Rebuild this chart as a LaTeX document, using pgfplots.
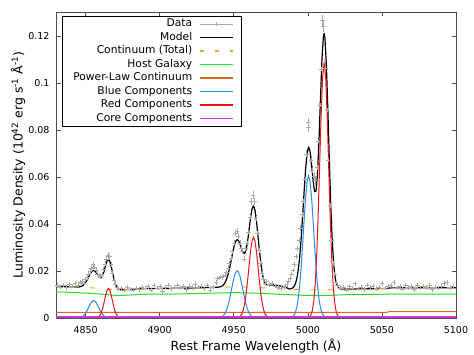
\documentclass[border=0pt]{standalone}
\usepackage{fontspec}
\setmainfont{DejaVu Sans}
\usepackage{pgfplots}
\pgfplotsset{compat=1.18}
\definecolor{cdata}{HTML}{A8A8A8}
\definecolor{ccont}{HTML}{F2A531}
\definecolor{chost}{HTML}{22DD22}
\definecolor{cpl}{HTML}{D2691E}
\definecolor{cblue}{HTML}{2A8BEE}
\definecolor{cred}{HTML}{EE1515}
\definecolor{ccore}{HTML}{CC33DD}
\begin{document}
\begin{tikzpicture}
\path[use as bounding box] (-56pt,-37pt) rectangle (418pt,318pt);
\begin{axis}[
 at={(0pt,0pt)}, anchor=south west,
 scale only axis, width=400pt, height=306pt,
 xmin=4830, xmax=5100, ymin=0, ymax=0.1302,
 xtick={4850,4900,4950,5000,5050,5100},
 xticklabels={4850,4900,4950,5000,5050,5100},
 ytick={0,0.02,0.04,0.06,0.08,0.1,0.12},
 yticklabels={0,0.02,0.04,0.06,0.08,0.1,0.12},
 tick align=inside, major tick length=4.5pt,
 ticklabel style={font=\fontsize{9.5}{11}\selectfont},
 xticklabel style={yshift=-5pt},
 yticklabel style={xshift=-3pt},
 axis line style={black!70, line width=0.6pt},
 tick style={black!70, line width=0.6pt},
 xlabel={Rest Frame Wavelength (Å)},
 ylabel={Luminosity Density (10\textsuperscript{42} erg s\textsuperscript{-1} Å\textsuperscript{-1})},
 label style={font=\fontsize{12.5}{15}\selectfont},
 xlabel style={at={(axis description cs:0.5,-0.0915)}, anchor=center},
 ylabel style={at={(axis description cs:-0.095,0.5)}, anchor=center},
 clip=false,
 legend style={at={(axis description cs:0.015,0.987)}, anchor=north west,
   draw=black, line width=0.6pt, fill=white, inner xsep=4pt, inner ysep=1pt,
   font=\fontsize{10.7}{12}\selectfont,
   nodes={inner ysep=1.5pt, text height=8pt, text depth=2.5pt}},
 legend cell align=right, legend plot pos=right,
]
% Data
\addplot[only marks, mark=+, mark size=2.2pt, color=cdata, mark options={line width=0.4pt},
  legend image code/.code={\path[draw=none,fill=none] (-6pt,-3pt) rectangle (37pt,3pt); \draw[cdata, line width=0.6pt] (0pt,0pt) -- (33pt,0pt); \draw[cdata, line width=0.6pt] (16.5pt,-2pt) -- (16.5pt,2pt);},
  error bars/.cd, y dir=both, y explicit, error mark=none, error bar style={line width=0.4pt, cdata}]
 table[x index=0, y index=1, y error index=2] {
4831 0.0138 0.0008
4833 0.0131 0.0008
4835 0.0140 0.0008
4837 0.0129 0.0008
4839 0.0142 0.0008
4841 0.0136 0.0008
4843 0.0149 0.0008
4845 0.0141 0.0008
4846 0.0153 0.0008
4847 0.0146 0.0008
4848 0.0158 0.0009
4849 0.0150 0.0009
4850 0.0166 0.0009
4851 0.0175 0.0009
4852 0.0186 0.0009
4853 0.0197 0.0010
4854 0.0214 0.0010
4855 0.0229 0.0010
4856 0.0218 0.0010
4857 0.0202 0.0010
4858 0.0188 0.0010
4859 0.0181 0.0010
4860 0.0179 0.0010
4861 0.0186 0.0010
4862 0.0206 0.0010
4863 0.0230 0.0011
4864 0.0252 0.0011
4865 0.0268 0.0012
4866 0.0262 0.0012
4867 0.0228 0.0011
4868 0.0190 0.0010
4869 0.0160 0.0010
4870 0.0142 0.0009
4871 0.0131 0.0008
4872 0.0123 0.0008
4874 0.0127 0.0008
4876 0.0118 0.0008
4878 0.0131 0.0008
4880 0.0124 0.0008
4882 0.0119 0.0008
4884 0.0128 0.0008
4886 0.0122 0.0008
4888 0.0133 0.0008
4890 0.0127 0.0008
4892 0.0134 0.0008
4894 0.0120 0.0008
4896 0.0141 0.0008
4898 0.0128 0.0008
4900 0.0136 0.0008
4902 0.0112 0.0008
4904 0.0131 0.0008
4906 0.0140 0.0008
4908 0.0125 0.0008
4910 0.0133 0.0008
4912 0.0138 0.0008
4914 0.0127 0.0008
4916 0.0134 0.0008
4918 0.0121 0.0008
4920 0.0137 0.0008
4922 0.0129 0.0008
4924 0.0142 0.0008
4926 0.0131 0.0008
4928 0.0136 0.0008
4930 0.0126 0.0008
4932 0.0140 0.0008
4934 0.0119 0.0008
4936 0.0133 0.0008
4938 0.0151 0.0008
4939 0.0168 0.0008
4940 0.0171 0.0008
4941 0.0174 0.0008
4942 0.0172 0.0008
4943 0.0178 0.0009
4944 0.0183 0.0009
4945 0.0196 0.0009
4946 0.0214 0.0010
4947 0.0234 0.0010
4948 0.0256 0.0011
4949 0.0283 0.0011
4950 0.0318 0.0012
4951 0.0362 0.0013
4952 0.0371 0.0013
4953 0.0348 0.0013
4954 0.0318 0.0012
4955 0.0297 0.0012
4956 0.0283 0.0011
4957 0.0251 0.0011
4958 0.0296 0.0012
4959 0.0318 0.0012
4960 0.0366 0.0013
4961 0.0430 0.0014
4962 0.0496 0.0015
4963 0.0523 0.0016
4964 0.0495 0.0015
4965 0.0424 0.0014
4966 0.0362 0.0013
4967 0.0287 0.0012
4968 0.0234 0.0011
4969 0.0192 0.0010
4970 0.0165 0.0009
4971 0.0150 0.0009
4972 0.0157 0.0009
4974 0.0143 0.0008
4976 0.0149 0.0008
4978 0.0136 0.0008
4980 0.0130 0.0008
4982 0.0126 0.0008
4984 0.0130 0.0008
4985 0.0136 0.0008
4986 0.0144 0.0008
4987 0.0158 0.0009
4988 0.0170 0.0009
4989 0.0186 0.0009
4990 0.0204 0.0010
4991 0.0228 0.0010
4992 0.0261 0.0011
4993 0.0296 0.0012
4994 0.0330 0.0012
4995 0.0382 0.0013
4996 0.0440 0.0014
4997 0.0499 0.0015
4998 0.0590 0.0016
4999 0.0695 0.0018
5000 0.0833 0.0020
5000.4 0.0812 0.0020
5002 0.0672 0.0018
5003 0.0628 0.0017
5004 0.0603 0.0017
5005 0.0585 0.0017
5006 0.0640 0.0017
5007 0.0752 0.0019
5008 0.0905 0.0021
5009 0.1060 0.0023
5010 0.1265 0.0025
5010.6 0.1240 0.0025
5012 0.1062 0.0023
5013 0.0885 0.0021
5014 0.0672 0.0018
5015 0.0478 0.0015
5016 0.0330 0.0012
5017 0.0232 0.0011
5018 0.0186 0.0010
5019 0.0152 0.0009
5020 0.0139 0.0008
5022 0.0128 0.0008
5024 0.0131 0.0008
5026 0.0120 0.0008
5028 0.0136 0.0008
5030 0.0127 0.0008
5032 0.0146 0.0008
5034 0.0124 0.0008
5036 0.0133 0.0008
5038 0.0122 0.0008
5040 0.0141 0.0008
5042 0.0129 0.0008
5044 0.0137 0.0008
5046 0.0125 0.0008
5048 0.0132 0.0008
5050 0.0146 0.0008
5052 0.0127 0.0008
5054 0.0135 0.0008
5056 0.0141 0.0008
5058 0.0151 0.0008
5060 0.0128 0.0008
5062 0.0136 0.0008
5064 0.0123 0.0008
5066 0.0139 0.0008
5068 0.0130 0.0008
5070 0.0134 0.0008
5072 0.0122 0.0008
5074 0.0138 0.0008
5076 0.0127 0.0008
5078 0.0135 0.0008
5080 0.0129 0.0008
5082 0.0140 0.0008
5084 0.0121 0.0008
5086 0.0133 0.0008
5088 0.0128 0.0008
5090 0.0137 0.0008
5092 0.0146 0.0008
5094 0.0151 0.0008
5096 0.0130 0.0008
5098 0.0134 0.0008
};
\addlegendentry{Data}
% Model
\addplot[black, line width=1.2pt, line join=round,
  legend image code/.code={\path[draw=none,fill=none] (-6pt,-3pt) rectangle (37pt,3pt); \draw[black, line width=1.3pt] (0pt,0pt) -- (33pt,0pt);}] coordinates {
(4830,0.0135) (4835,0.0134) (4840.4,0.0133) (4843.4,0.0132) (4845.4,0.01318)
(4846.4,0.01336) (4847.4,0.01356) (4848.4,0.01395) (4849.4,0.01458) (4850.4,0.01549)
(4851.4,0.01664) (4852.4,0.01792) (4853.4,0.01908) (4854.4,0.01991) (4855.4,0.02018)
(4856.4,0.01986) (4857.4,0.01903) (4858.4,0.01802) (4859.4,0.0172) (4860.4,0.01707)
(4861.4,0.01794) (4862.4,0.01983) (4863.4,0.02223) (4864.4,0.02426) (4865.4,0.02499)
(4866.4,0.02397) (4867.4,0.02154) (4868.4,0.01859) (4869.4,0.01591) (4870.4,0.01397)
(4871.4,0.01282) (4872.4,0.01224) (4873.4,0.01206) (4874.4,0.01202) (4876,0.0120)
(4880,0.0122) (4885,0.01235) (4890,0.0125) (4900,0.01255) (4910,0.0126)
(4920,0.01275) (4930,0.0129) (4936.3,0.0130) (4939.3,0.01309) (4940.3,0.01319)
(4941.3,0.01338) (4942.3,0.01371) (4943.3,0.01432) (4944.3,0.0153) (4945.3,0.01681)
(4946.3,0.01891) (4947.3,0.02162) (4948.3,0.02473) (4949.3,0.0279) (4950.3,0.03071)
(4951.3,0.03263) (4952.3,0.03336) (4953.3,0.03284) (4954.3,0.03131) (4955.3,0.02935)
(4956.3,0.02782) (4957.3,0.02749) (4958.3,0.02901) (4959.3,0.03252) (4960.3,0.0374)
(4961.3,0.04258) (4962.3,0.04642) (4963.3,0.04773) (4964.3,0.0459) (4965.3,0.04136)
(4966.3,0.03511) (4967.3,0.02868) (4968.3,0.02304) (4969.3,0.01879) (4970.3,0.01596)
(4971.3,0.0143) (4972.3,0.0142) (4974.3,0.0141) (4977,0.0140) (4980,0.0138)
(4983,0.0134) (4986,0.0128) (4987.5,0.01236) (4988.5,0.01244) (4989.5,0.01267)
(4990.5,0.01324) (4991.5,0.01441) (4992.5,0.0166) (4993.5,0.02033) (4994.5,0.02603)
(4995.5,0.03389) (4996.5,0.04357) (4997.5,0.05397) (4998.5,0.06344) (4999.5,0.07019)
(5000.5,0.07277) (5001.5,0.07081) (5002.5,0.06534) (5003.5,0.05865) (5004.5,0.05383)
(5005.5,0.05397) (5006.5,0.0611) (5007.5,0.07505) (5008.5,0.09303) (5009.5,0.10988)
(5010.5,0.11993) (5011.0,0.12109) (5011.5,0.11937) (5012.5,0.10789) (5013.5,0.08872)
(5014.5,0.06695) (5015.5,0.04728) (5016.5,0.03228) (5017.5,0.02247) (5018.5,0.01689)
(5019.5,0.01411) (5020.5,0.0129) (5021.5,0.01245) (5022.5,0.0123) (5025,0.0123)
(5035,0.0124) (5050,0.0125) (5053,0.01255) (5055,0.0128) (5075,0.0129) (5100,0.0129)
};
\addlegendentry{Model}
% Continuum total
\addplot[ccont, line width=1pt, dash pattern=on 5pt off 12pt,
  legend image code/.code={\path[draw=none,fill=none] (-6pt,-3pt) rectangle (37pt,3pt); \draw[ccont, line width=1.3pt, dash pattern=on 4pt off 11pt] (0pt,0pt) -- (33pt,0pt);}] coordinates {
(4830,0.0135) (4845,0.0132) (4860,0.0126) (4872,0.0119) (4880,0.0122) (4890,0.0125)
(4910,0.0126) (4930,0.0129) (4950,0.0132) (4965,0.0130) (4980,0.0125) (4995,0.0121)
(5010,0.0119) (5025,0.0123) (5050,0.0125) (5053,0.01255) (5055,0.0128) (5075,0.0129) (5100,0.0129)
};
\addlegendentry{Continuum (Total)}
% Host galaxy
\addplot[chost, line width=1pt,
  legend image code/.code={\path[draw=none,fill=none] (-6pt,-3pt) rectangle (37pt,3pt); \draw[chost, line width=1.8pt] (0pt,0pt) -- (33pt,0pt);}] coordinates {
(4830,0.0111) (4845,0.0108) (4860,0.0102) (4872,0.0095) (4880,0.0098) (4890,0.0101)
(4910,0.0102) (4930,0.0105) (4950,0.0108) (4965,0.0106) (4980,0.0101) (4995,0.0097)
(5010,0.0095) (5025,0.0099) (5050,0.0101) (5075,0.0102) (5100,0.0102)
};
\addlegendentry{Host Galaxy}
% Power law
\addplot[cpl, line width=1pt,
  legend image code/.code={\path[draw=none,fill=none] (-6pt,-3pt) rectangle (37pt,3pt); \draw[cpl, line width=1.4pt] (0pt,0pt) -- (33pt,0pt);}] coordinates {
(4830,0.0024) (5053,0.0024) (5055,0.0027) (5100,0.0027)
};
\addlegendentry{\hspace{5pt}Power-Law Continuum}
% Blue components
\addplot[cblue, line width=1pt,
  legend image code/.code={\path[draw=none,fill=none] (-6pt,-3pt) rectangle (37pt,3pt); \draw[cblue, line width=1.4pt] (0pt,0pt) -- (33pt,0pt);}] coordinates {
(4843.4,0.00001) (4844.4,0.00004) (4845.4,0.0001) (4846.4,0.00022) (4847.4,0.00046)
(4848.4,0.00089) (4849.4,0.00156) (4850.4,0.00251) (4851.4,0.0037) (4852.4,0.00502)
(4853.4,0.00622) (4854.4,0.00709) (4855.4,0.0074) (4856.4,0.00709) (4857.4,0.00622)
(4858.4,0.00502) (4859.4,0.0037) (4860.4,0.00251) (4861.4,0.00156) (4862.4,0.00089)
(4863.4,0.00046) (4864.4,0.00022) (4865.4,0.0001) (4866.4,0.00004) (4867.4,0.00001)
};
\addlegendentry{Blue Components}
\addplot[cblue, line width=1pt, forget plot] coordinates {
(4939.3,0.00006) (4940.3,0.00014) (4941.3,0.00031) (4942.3,0.00063) (4943.3,0.00122)
(4944.3,0.00219) (4945.3,0.00368) (4946.3,0.00577) (4947.3,0.00846) (4948.3,0.01156)
(4949.3,0.01471) (4950.3,0.01751) (4951.3,0.01942) (4952.3,0.0201) (4953.3,0.01942)
(4954.3,0.01751) (4955.3,0.01471) (4956.3,0.01156) (4957.3,0.00846) (4958.3,0.00577)
(4959.3,0.00368) (4960.3,0.00219) (4961.3,0.00122) (4962.3,0.00063) (4963.3,0.00031)
(4964.3,0.00014) (4965.3,0.00006)
};
\addplot[cblue, line width=1pt, forget plot] coordinates {
(4987.5,0.00006) (4988.5,0.00017) (4989.5,0.00043) (4990.5,0.00102) (4991.5,0.00222)
(4992.5,0.00444) (4993.5,0.00819) (4994.5,0.01392) (4995.5,0.0218) (4996.5,0.03149)
(4997.5,0.0419) (4998.5,0.05138) (4999.5,0.05808) (5000.5,0.0605) (5001.5,0.05808)
(5002.5,0.05138) (5003.5,0.0419) (5004.5,0.03149) (5005.5,0.0218) (5006.5,0.01392)
(5007.5,0.00819) (5008.5,0.00444) (5009.5,0.00222) (5010.5,0.00102) (5011.5,0.00043)
(5012.5,0.00017) (5013.5,0.00006)
};
% Red components
\addplot[cred, line width=1pt,
  legend image code/.code={\path[draw=none,fill=none] (-6pt,-3pt) rectangle (37pt,3pt); \draw[cred, line width=1.4pt] (0pt,0pt) -- (33pt,0pt);}] coordinates {
(4856.4,0.00003) (4857.4,0.00011) (4858.4,0.00034) (4859.4,0.00088) (4860.4,0.00198)
(4861.4,0.00386) (4862.4,0.00648) (4863.4,0.00937) (4864.4,0.0117) (4865.4,0.0126)
(4866.4,0.0117) (4867.4,0.00937) (4868.4,0.00648) (4869.4,0.00386) (4870.4,0.00198)
(4871.4,0.00088) (4872.4,0.00034) (4873.4,0.00011) (4874.4,0.00003)
};
\addlegendentry{Red Components}
\addplot[cred, line width=1pt, forget plot] coordinates {
(4951.3,0.00003) (4952.3,0.00009) (4953.3,0.00026) (4954.3,0.00066) (4955.3,0.00151)
(4956.3,0.00314) (4957.3,0.00593) (4958.3,0.01015) (4959.3,0.01576) (4960.3,0.02215)
(4961.3,0.02831) (4962.3,0.03275) (4963.3,0.0344) (4964.3,0.03275) (4965.3,0.02831)
(4966.3,0.02215) (4967.3,0.01576) (4968.3,0.01015) (4969.3,0.00593) (4970.3,0.00314)
(4971.3,0.00151) (4972.3,0.00066) (4973.3,0.00026) (4974.3,0.00009) (4975.3,0.00003)
};
\addplot[cred, line width=1pt, forget plot] coordinates {
(5000,0.00013) (5001,0.00042) (5002,0.0012) (5003,0.0031) (5004,0.00713)
(5005,0.01468) (5006,0.02706) (5007,0.0446) (5008,0.06581) (5009,0.08688)
(5010,0.10264) (5011,0.1085) (5012,0.10264) (5013,0.08688) (5014,0.06581)
(5015,0.0446) (5016,0.02706) (5017,0.01468) (5018,0.00713) (5019,0.0031)
(5020,0.0012) (5021,0.00042) (5022,0.00013)
};
% Core components
\addplot[ccore, line width=1.3pt,
  legend image code/.code={\path[draw=none,fill=none] (-6pt,-3pt) rectangle (37pt,3pt); \draw[ccore, line width=1.8pt] (0pt,0pt) -- (33pt,0pt);}] coordinates {(4830,0.0004) (5100,0.0004)};
\addlegendentry{Core Components}
\end{axis}
\end{tikzpicture}
\end{document}
